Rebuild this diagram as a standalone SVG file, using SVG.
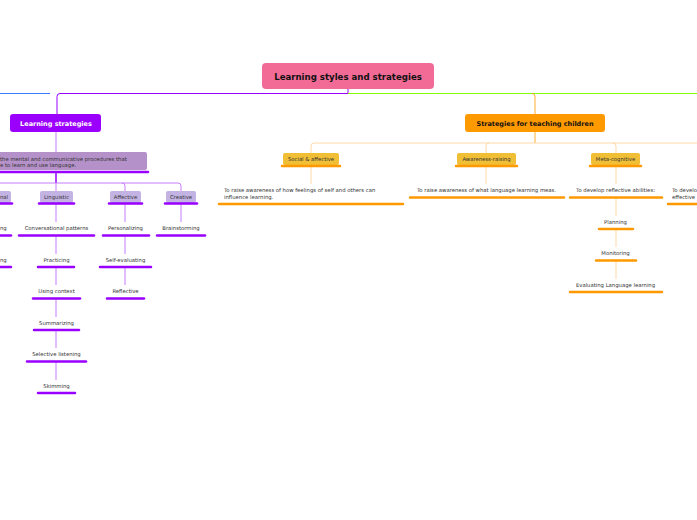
<svg xmlns="http://www.w3.org/2000/svg" width="697" height="520" viewBox="0 0 697 520">
<style>
text{font-family:"DejaVu Sans",Verdana,sans-serif;fill:#333;font-size:5.3px}
.c{text-anchor:middle}
.pl{stroke:#c77dff;stroke-width:1;fill:none}
.pu{stroke:#9900ff;stroke-width:2.5;stroke-linecap:round}
.ol{stroke:#ffd9a6;stroke-width:1;fill:none}
.ou{stroke:#ff9900;stroke-width:2.5;stroke-linecap:round}
.cat{fill:#c3b3e3}
.ocat{fill:#f0bf35}
</style>
<rect width="697" height="520" fill="#fff"/>
<g id="connectors">
<path d="M0 93.5H50" stroke="#3a7bff" stroke-width="1"/>
<path d="M348 89V93.5H60Q57 93.5 57 96.5V114" stroke="#9900ff" stroke-width="1" fill="none"/>
<path d="M348 93.5H697" stroke="#80ff00" stroke-width="1"/>
<path d="M532 93.5Q535 93.5 535 96.5V114" stroke="#ff9900" stroke-width="0.8" fill="none"/>
<path class="pl" d="M56 132V152"/>
<path d="M56 172V183" stroke="#9900ff" stroke-width="1.5"/>
<path class="pl" d="M0 183H178Q181 183 181 186V191M56 183V191M122 183Q125 183 125 186V191"/>
<path class="pl" d="M56 203V222M56 236V254M56 268V285M56 299V317M56 330V348M56 362V380"/>
<path class="pl" d="M125 203V222M125 236V254M125 268V285"/>
<path class="pl" d="M181 203V222"/>
<path d="M535 132V143" stroke="#ff9900" stroke-width="0.8"/>
<path class="ol" d="M314 143Q311 143 311 146V153M314 143H697M489 143Q486 143 486 146V153M613 143Q616 143 616 146V153"/>
<path class="ol" d="M311 166V184M486 166V184M616 166V184M616 198V216M616 230V247M616 261V279"/>
</g>
<g id="root"><rect x="262" y="63" width="172" height="26" rx="4" fill="#f26b97"/><text x="348" y="80" class="c" style="font-size:8.6px;font-weight:bold;fill:#111">Learning styles and strategies</text></g>
<g id="learning-strategies"><rect x="10" y="114" width="91" height="18" rx="3" fill="#9b00ff"/><text x="56" y="125.5" class="c" style="font-size:6.5px;font-weight:bold;fill:#fff">Learning strategies</text></g>
<g id="teaching"><rect x="465" y="114" width="140" height="18" rx="3" fill="#ff9900"/><text x="535" y="125.5" class="c" style="font-size:6.5px;font-weight:bold;fill:#111">Strategies for teaching children</text></g>
<g id="description"><rect x="-10" y="152" width="157" height="18" rx="2" fill="#b491c8"/><text x="0" y="160.5">the mental and communicative procedures that</text><text x="0" y="166.5">e to learn and use language.</text><line class="pu" x1="0" y1="172" x2="148" y2="172"/></g>
<g id="cat-personal"><rect class="cat" x="-20" y="191" width="31" height="12" rx="2"/><text x="0" y="199">nal</text><line class="pu" x1="0" y1="203.5" x2="12" y2="203.5"/></g>
<g id="cat-linguistic"><rect class="cat" x="40" y="191" width="33" height="12" rx="2"/><text x="56.5" y="199" class="c">Linguistic</text><line class="pu" x1="39" y1="203.5" x2="74" y2="203.5"/></g>
<g id="cat-affective"><rect class="cat" x="110" y="191" width="31" height="12" rx="2"/><text x="125.5" y="199" class="c">Affective</text><line class="pu" x1="109" y1="203.5" x2="142" y2="203.5"/></g>
<g id="cat-creative"><rect class="cat" x="166" y="191" width="30" height="12" rx="2"/><text x="181" y="199" class="c">Creative</text><line class="pu" x1="165" y1="203.5" x2="197" y2="203.5"/></g>
<g id="l-ng1"><text x="0" y="229.5">ng</text><line class="pu" x1="0" y1="235.5" x2="11" y2="235.5"/></g>
<g id="l-ng2"><text x="0" y="261.5">ng</text><line class="pu" x1="0" y1="267" x2="11" y2="267"/></g>
<g id="l1"><text x="56.5" y="229.5" class="c">Conversational patterns</text><line class="pu" x1="19" y1="235.5" x2="94" y2="235.5"/></g>
<g id="l2"><text x="56.5" y="261.5" class="c">Practicing</text><line class="pu" x1="38" y1="267" x2="74" y2="267"/></g>
<g id="l3"><text x="56.5" y="292.5" class="c">Using context</text><line class="pu" x1="33" y1="298.5" x2="80" y2="298.5"/></g>
<g id="l4"><text x="56.5" y="324.5" class="c">Summarizing</text><line class="pu" x1="34" y1="330" x2="79" y2="330"/></g>
<g id="l5"><text x="56.5" y="355.5" class="c">Selective listening</text><line class="pu" x1="27" y1="361.5" x2="86" y2="361.5"/></g>
<g id="l6"><text x="56.5" y="387.5" class="c">Skimming</text><line class="pu" x1="38" y1="393" x2="75" y2="393"/></g>
<g id="a1"><text x="125.5" y="229.5" class="c">Personalizing</text><line class="pu" x1="103" y1="235.5" x2="149" y2="235.5"/></g>
<g id="a2"><text x="125.5" y="261.5" class="c">Self-evaluating</text><line class="pu" x1="100" y1="267" x2="151" y2="267"/></g>
<g id="a3"><text x="125.5" y="292.5" class="c">Reflective</text><line class="pu" x1="107" y1="298.5" x2="144" y2="298.5"/></g>
<g id="c1"><text x="181" y="229.5" class="c">Brainstorming</text><line class="pu" x1="157" y1="235.5" x2="205" y2="235.5"/></g>
<g id="o-social"><rect class="ocat" x="283" y="153" width="56" height="12" rx="2"/><text x="311" y="161" class="c">Social &amp; affective</text><line class="ou" x1="282" y1="166" x2="340" y2="166"/></g>
<g id="o-aware"><rect class="ocat" x="457" y="153" width="59" height="12" rx="2"/><text x="486.5" y="161" class="c">Awareness-raising</text><line class="ou" x1="456" y1="166" x2="517" y2="166"/></g>
<g id="o-meta"><rect class="ocat" x="591" y="153" width="49" height="12" rx="2"/><text x="615.5" y="161" class="c">Meta-cognitive</text><line class="ou" x1="590" y1="166" x2="641" y2="166"/></g>
<g id="s1"><text x="224" y="191.5">To raise awareness of how feelings of self and others can</text><text x="224" y="198.5">influence learning.</text><line class="ou" x1="219" y1="204" x2="403" y2="204"/></g>
<g id="aw1"><text x="486.5" y="191.5" class="c">To raise awareness of what language learning meas.</text><line class="ou" x1="410" y1="197.5" x2="564" y2="197.5"/></g>
<g id="m1"><text x="615.5" y="191.5" class="c">To develop reflective abilities:</text><line class="ou" x1="570" y1="197.5" x2="662" y2="197.5"/></g>
<g id="m2"><text x="615.5" y="223.5" class="c">Planning</text><line class="ou" x1="599" y1="229" x2="633" y2="229"/></g>
<g id="m3"><text x="615.5" y="254.5" class="c">Monitoring</text><line class="ou" x1="596" y1="260.5" x2="636" y2="260.5"/></g>
<g id="m4"><text x="615.5" y="286.5" class="c">Evaluating Language learning</text><line class="ou" x1="570" y1="292" x2="662" y2="292"/></g>
<g id="r1"><text x="672" y="191.5">To develo</text><text x="672" y="198.5">effective</text><line class="ou" x1="668" y1="204" x2="697" y2="204"/></g>
</svg>
